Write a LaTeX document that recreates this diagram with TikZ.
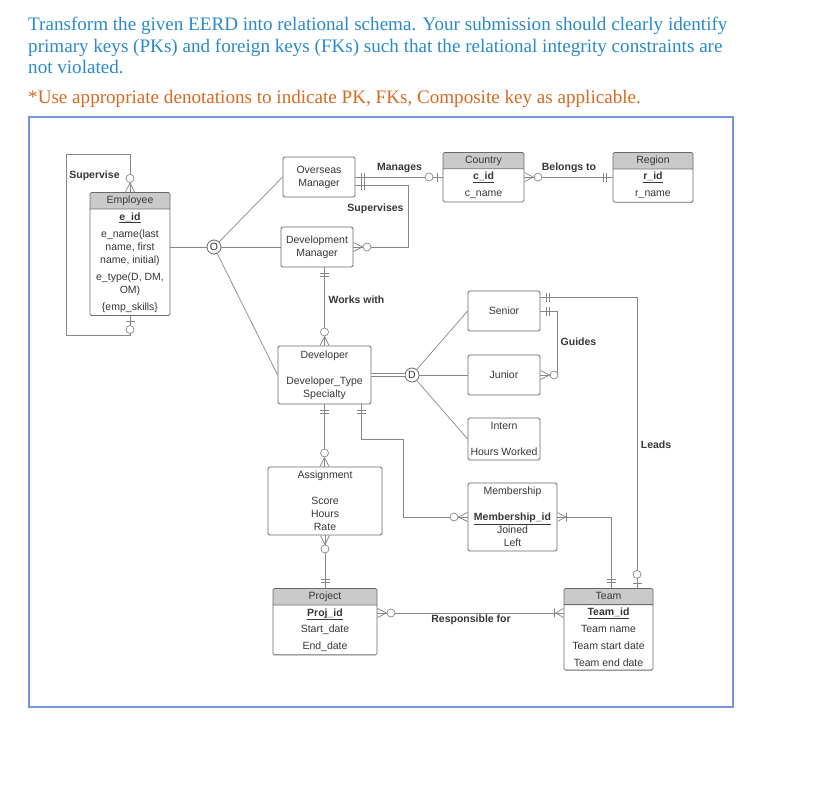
\documentclass[tikz,border=0pt]{standalone}
\usepackage{fontspec}
\setmainfont{Liberation Serif}
\newfontfamily\erfamily{Liberation Sans}
\usetikzlibrary{shapes.multipart,decorations.markings}
\definecolor{qblue}{RGB}{42,137,201}
\definecolor{qorange}{RGB}{214,106,34}
\definecolor{framec}{RGB}{118,150,218}
\definecolor{relc}{RGB}{135,135,135}
\definecolor{boxc}{RGB}{105,105,105}
\definecolor{hdrc}{RGB}{202,202,202}
\definecolor{txtc}{RGB}{55,55,55}
\newcommand{\erfont}{\erfamily\fontsize{10.5}{13}\selectfont}
\newcommand{\mOne}{\draw[rel] (-6pt,-4.5pt) -- (-6pt,4.5pt) (-9pt,-4.5pt) -- (-9pt,4.5pt);}
\newcommand{\mZeroOne}{\draw[rel] (-5pt,-4.5pt) -- (-5pt,4.5pt); \draw[rel,fill=white] (-13.5pt,0pt) circle (4pt);}
\newcommand{\mZeroMany}{\draw[rel] (0pt,-4.5pt) -- (-9pt,0pt) -- (0pt,4.5pt); \draw[rel,fill=white] (-13.5pt,0pt) circle (4pt);}
\newcommand{\mOneMany}{\draw[rel] (0pt,-4.5pt) -- (-8pt,0pt) -- (0pt,4.5pt) (-9pt,-4.5pt) -- (-9pt,4.5pt);}

\begin{document}
\begin{tikzpicture}[x=1pt,y=-1pt,
  rel/.style={draw=relc,line width=0.7pt},
  start card/.style={postaction={decorate,decoration={markings,mark=at position 0.1pt with {\begin{scope}[xscale=-1]#1\end{scope}}}}},
  end card/.style={postaction={decorate,decoration={markings,mark=at position -0.1pt with {#1}}}},
  entity/.style={draw=boxc,line width=0.8pt,rounded corners=1.5pt,fill=white,align=center,font=\erfont,text=txtc,inner sep=2pt},
  tbl/.style={rectangle split,rectangle split parts=2,rectangle split draw splits=true,rectangle split part fill={hdrc,white},draw=boxc,line width=0.8pt,rounded corners=1.5pt,align=center,font=\erfont,text=txtc,inner xsep=2pt,inner ysep=3pt},
  gate/.style={circle,draw=boxc,line width=0.8pt,fill=white,minimum size=14pt,inner sep=0pt,font=\erfont,text=txtc},
  lbl/.style={font=\erfont\bfseries,text=txtc,inner sep=1pt},
  qtext/.style={anchor=base west,inner sep=0pt,font=\fontsize{19.1}{22}\selectfont}]
  \useasboundingbox (0,0) rectangle (837,790);

  \node[qtext,text=qblue] (qline1) at (28,30) {Transform the given EERD into relational schema. Your submission should clearly identify};
  \node[qtext,text=qblue] (qline2) at (28,52) {primary keys (PKs) and foreign keys (FKs) such that the relational integrity constraints are};
  \node[qtext,text=qblue] (qline3) at (28,73) {not violated.};
  \node[qtext,text=qorange] (qline4) at (28,103) {*Use appropriate denotations to indicate PK, FKs, Composite key as applicable.};
  \draw[framec,line width=1.3pt] (29,117) rectangle (733,707);

  \node[tbl,minimum width=80pt,anchor=north] (emp) at (130,192) {Employee\nodepart{two}\underline{\textbf{e\_id}}\\[4pt]e\_name(last\\name, first\\name, initial)\\[4pt]e\_type(D, DM,\\OM)\\[4pt]\{emp\_skills\}};
  \node[entity,minimum width=72pt,minimum height=40pt] (om) at (319,177) {Overseas\\Manager};
  \node[entity,minimum width=72pt,minimum height=40pt] (dm) at (317,247) {Development\\Manager};
  \node[tbl,minimum width=81pt,anchor=north] (country) at (483.5,152) {Country\nodepart{two}\underline{\textbf{c\_id}}\\[3.7pt]c\_name};
  \node[tbl,minimum width=80pt,anchor=north] (region) at (653,152) {Region\nodepart{two}\underline{\textbf{r\_id}}\\[3.7pt]r\_name};
  \node[entity,minimum width=72pt,minimum height=40pt] (senior) at (504,311) {Senior};
  \node[entity,minimum width=72pt,minimum height=40pt] (junior) at (504,375) {Junior};
  \node[entity,minimum width=72pt,minimum height=42pt] (intern) at (504,439) {Intern\\[13pt]Hours Worked};
  \node[entity,minimum width=93pt,minimum height=58pt] (dev) at (324.5,375) {Developer\\[13pt]Developer\_Type\\Specialty};
  \node[entity,minimum width=114pt,minimum height=68pt] (assign) at (325,501) {Assignment\\[13pt]Score\\Hours\\Rate};
  \node[entity,minimum width=89pt,minimum height=68pt] (memb) at (512.5,517) {Membership\\[13pt]\underline{\textbf{Membership\_id}}\\Joined\\Left};
  \node[tbl,minimum width=104pt,anchor=north] (proj) at (325,588) {Project\nodepart{two}\underline{\textbf{Proj\_id}}\\[3.7pt]Start\_date\\[3.7pt]End\_date};
  \node[tbl,minimum width=89pt,anchor=north] (team) at (608.5,588) {Team\vphantom{y}\nodepart{two}\underline{\textbf{Team\_id}}\\[4pt]Team name\\[4pt]Team start date\\[4pt]Team end date};
  \node[gate] (oc) at (214,247) {O};
  \node[gate] (dc) at (412,375) {D};

  \draw[rel,start card=\mZeroMany,end card=\mZeroOne] (emp.north) -- ++(0,-38) -- ++(-64,0) |- ([yshift=-19pt]emp.south) -- (emp.south);
  \draw[rel] (oc) -- (oc -| emp.east);
  \draw[rel] (oc) -- (om.west);
  \draw[rel] (oc) -- (dm.west);
  \draw[rel] (oc) -- (dev.west);
  \draw[rel,start card=\mOne,end card=\mZeroOne] (om.east) -- (om.east -| country.west);
  \draw[rel,start card=\mOne,end card=\mZeroMany] ([yshift=-8pt]om.east) -- ++(53,0) |- (dm.east);
  \draw[rel,start card=\mOne,end card=\mZeroMany] (dev.north |- dm.south) -- (dev.north);
  \draw[rel,start card=\mZeroMany,end card=\mOne] (country.east) -- (country.east -| region.west);
  \draw[rel,double,double distance=2pt] (dev.east) -- (dc);
  \draw[rel] (dc) -- (senior.west);
  \draw[rel] (dc) -- (junior.west);
  \draw[rel] (dc) -- (intern.west);
  \draw[rel,start card=\mOne,end card=\mZeroOne] ([yshift=14pt]senior.east) -| ([xshift=28.5pt]team.north);
  \draw[rel,start card=\mOne,end card=\mZeroMany] (senior.east) -- ++(17,0) |- (junior.east);
  \draw[rel,start card=\mOne,end card=\mZeroMany] (dev.south) -- (dev.south |- assign.north);
  \draw[rel,start card=\mOne,end card=\mZeroMany] ([xshift=36.5pt]dev.south) -- ++(0,35) -- ++(42,0) |- (memb.west);
  \draw[rel,start card=\mOneMany,end card=\mOne] (memb.east) -| ([xshift=2.5pt]team.north);
  \draw[rel,start card=\mZeroMany,end card=\mOne] (assign.south) -- (assign.south |- proj.north);
  \draw[rel,start card=\mZeroMany,end card=\mOneMany] ([yshift=-8pt]proj.one split east) -- ([yshift=-8pt]proj.one split east -| team.west);

  \node[lbl] (lsupervise) at (94.5,176) {Supervise};
  \node[lbl] (lmanages) at (399.5,168) {Manages};
  \node[lbl] (lsupervises) at (375.5,209) {Supervises};
  \node[lbl] (lworks) at (356.5,300) {Works with};
  \node[lbl] (lbelongs) at (569,168) {Belongs to};
  \node[lbl] (lguides) at (578.5,342) {Guides};
  \node[lbl] (lleads) at (656,445) {Leads};
  \node[lbl] (lresp) at (471,620) {Responsible for};
\end{tikzpicture}
\end{document}
